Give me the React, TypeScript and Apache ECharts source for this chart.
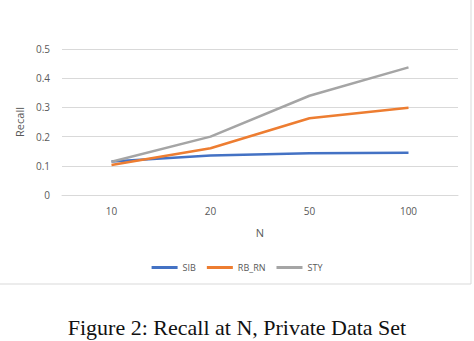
import React, { useEffect, useRef } from "react";
import * as echarts from "echarts";

const categories = ["10", "20", "50", "100"];
const sib = [0.115, 0.135, 0.143, 0.145];
const rbRn = [0.103, 0.16, 0.263, 0.299];
const sty = [0.114, 0.2, 0.34, 0.437];
const seriesNames = ["SIB", "RB_RN", "STY"];
const colors = ["#4472c4", "#ed7d31", "#a5a5a5"];

export default function App() {
  const ref = useRef<HTMLDivElement>(null);
  useEffect(() => {
    const chart = echarts.init(ref.current!, null, { renderer: "svg" });
    const font = "Open Sans";
    const labelColor = "#595959";
    chart.setOption({
      animation: false,
      backgroundColor: "#ffffff",
      color: colors,
      grid: { left: 62, right: 16, top: 49, bottom: 146 },
      legend: {
        top: 258,
        left: "center",
        icon: "rect",
        itemWidth: 26,
        itemHeight: 3,
        itemGap: 11,
        textStyle: { color: labelColor, fontSize: 9, fontFamily: font },
        data: seriesNames,
      },
      xAxis: {
        type: "category",
        data: categories,
        boundaryGap: true,
        name: "N",
        nameLocation: "middle",
        nameGap: 32,
        nameTextStyle: { color: labelColor, fontSize: 11, fontFamily: font },
        axisLine: { lineStyle: { color: "#d9d9d9" } },
        axisTick: { show: false },
        axisLabel: { color: labelColor, fontSize: 10, fontFamily: font, margin: 11 },
      },
      yAxis: {
        type: "value",
        min: 0,
        max: 0.5,
        interval: 0.1,
        name: "Recall",
        nameLocation: "middle",
        nameGap: 28,
        nameRotate: 90,
        nameTextStyle: { color: labelColor, fontSize: 11, fontFamily: font },
        axisLine: { show: false },
        axisTick: { show: false },
        splitLine: { lineStyle: { color: "#d9d9d9" } },
        axisLabel: { color: labelColor, fontSize: 10, fontFamily: font, margin: 12 },
      },
      graphic: [
        {
          type: "rect",
          shape: { x: -2, y: -2, width: 473, height: 286 },
          style: { fill: "none", stroke: "#d9d9d9", lineWidth: 1 },
          z: -1,
        },
        {
          type: "text",
          left: "center",
          top: 316,
          style: {
            text: "Figure 2: Recall at N, Private Data Set",
            font: '22px "Liberation Serif", serif',
            fill: "#111111",
          },
        },
      ],
      series: [
        { name: seriesNames[0], type: "line", data: sib, showSymbol: false, lineStyle: { width: 2.5 } },
        { name: seriesNames[1], type: "line", data: rbRn, showSymbol: false, lineStyle: { width: 2.5 } },
        { name: seriesNames[2], type: "line", data: sty, showSymbol: false, lineStyle: { width: 2.5 } },
      ],
    });
    return () => chart.dispose();
  }, []);
  return (
    <div
      ref={ref}
      style={{ position: "fixed", left: 0, top: 0, width: 474, height: 341 }}
    />
  );
}
